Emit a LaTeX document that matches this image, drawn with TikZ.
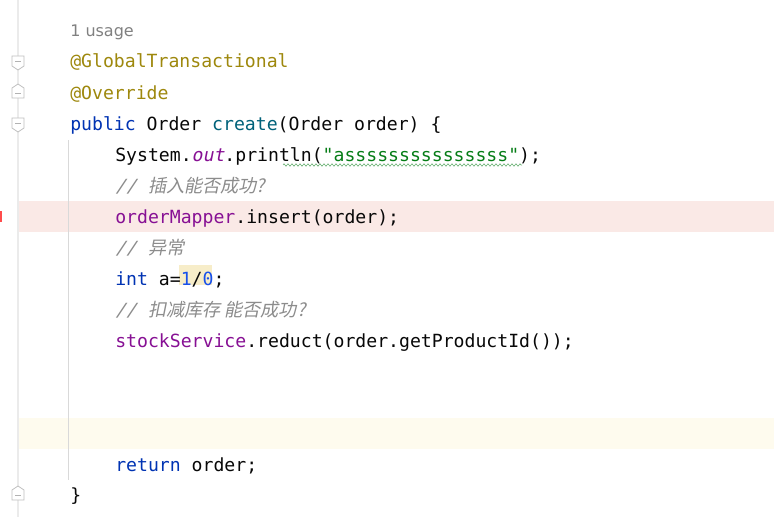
\documentclass[tikz,border=0pt]{standalone}
\usepackage{fontspec}
\usetikzlibrary{decorations.pathmorphing}
\setmonofont{DejaVu Sans Mono}
\setsansfont{DejaVu Sans}
\newfontfamily\cjk[FakeSlant=0.2]{Noto Sans CJK SC}
\newfontfamily\monoit[FakeSlant=0.2]{DejaVu Sans Mono}
\definecolor{ann}{HTML}{9E880D}
\definecolor{kw}{HTML}{0033B3}
\definecolor{fn}{HTML}{00627A}
\definecolor{fld}{HTML}{871094}
\definecolor{str}{HTML}{067D17}
\definecolor{cmt}{HTML}{8C8C8C}
\definecolor{num}{HTML}{1750EB}
\definecolor{txt}{HTML}{080808}
\definecolor{pinkrow}{HTML}{FAE9E6}
\definecolor{yelrow}{HTML}{FEFBEE}
\definecolor{numbg}{HTML}{F7EDC9}
\definecolor{gut}{HTML}{EBEBEB}
\begin{document}
\begin{tikzpicture}[x=0.75pt,y=-0.75pt,
  code/.style={anchor=base west,inner sep=0pt,font=\fontsize{13.6}{16}\ttfamily,text=txt},
  fold/.style={draw=gray!50,fill=white,line width=0.6pt}]
\useasboundingbox (0,0) rectangle (774,517);
\fill[white] (0,0) rectangle (774,517);
\fill[pinkrow] (18,201) rectangle (774,232);
\fill[yelrow] (18,418) rectangle (774,449);
\draw[gut,line width=0.8pt] (18,0) -- (18,517);
\draw[gray!30,line width=0.6pt] (68,140) -- (68,480);
\fill[red!70] (0,211) rectangle (2,222);
% fold markers
\draw[fold] (12,56) -- (24,56) -- (24,66) -- (18,70) -- (12,66) -- cycle;
\draw[gray!60] (15,61) -- (21,61);
\draw[fold] (12,98) -- (24,98) -- (24,88) -- (18,84) -- (12,88) -- cycle;
\draw[gray!60] (15,93) -- (21,93);
\draw[fold] (12,118) -- (24,118) -- (24,128) -- (18,132) -- (12,128) -- cycle;
\draw[gray!60] (15,123) -- (21,123);
\draw[fold] (12,500) -- (24,500) -- (24,490) -- (18,486) -- (12,490) -- cycle;
\draw[gray!60] (15,495) -- (21,495);
\fill[numbg] (179,265) rectangle (212,285);
\node[code,font=\fontsize{12}{14}\sffamily,text=gray] (u) at (70,37) {1 usage};
\node[code,text=ann] (l1) at (70,68) {@GlobalTransactional};
\node[code,text=ann] (l2) at (70,99) {@Override};
\node[code] (l3) at (70,130) {\textcolor{kw}{public} Order \textcolor{fn}{create}(Order order) \{};
\node[code] (l4) at (115,161) {System.\textcolor{fld}{\monoit out}.println(\textcolor{str}{"asssssssssssssss"});};
\node[code,text=cmt] (l5) at (115,192) {\monoit// {\cjk 插入能否成功?}};
\node[code] (l6) at (115,223) {\textcolor{fld}{orderMapper}.insert(order);};
\node[code,text=cmt] (l7) at (115,254) {\monoit// {\cjk 异常}};
\node[code] (l8) at (115,285) {\textcolor{kw}{int} a=\textcolor{num}{1}/\textcolor{num}{0};};
\node[code,text=cmt] (l9) at (115,316) {\monoit// {\cjk 扣减库存 能否成功?}};
\node[code] (l10) at (115,347) {\textcolor{fld}{stockService}.reduct(order.getProductId());};
\node[code] (l11) at (115,471) {\textcolor{kw}{return} order;};
\node[code] (l12) at (70,501) {\}};
\draw[str!60,decorate,decoration={zigzag,amplitude=0.8pt,segment length=3pt},line width=0.5pt] (283,165) -- (522,165);
\end{tikzpicture}
\end{document}
